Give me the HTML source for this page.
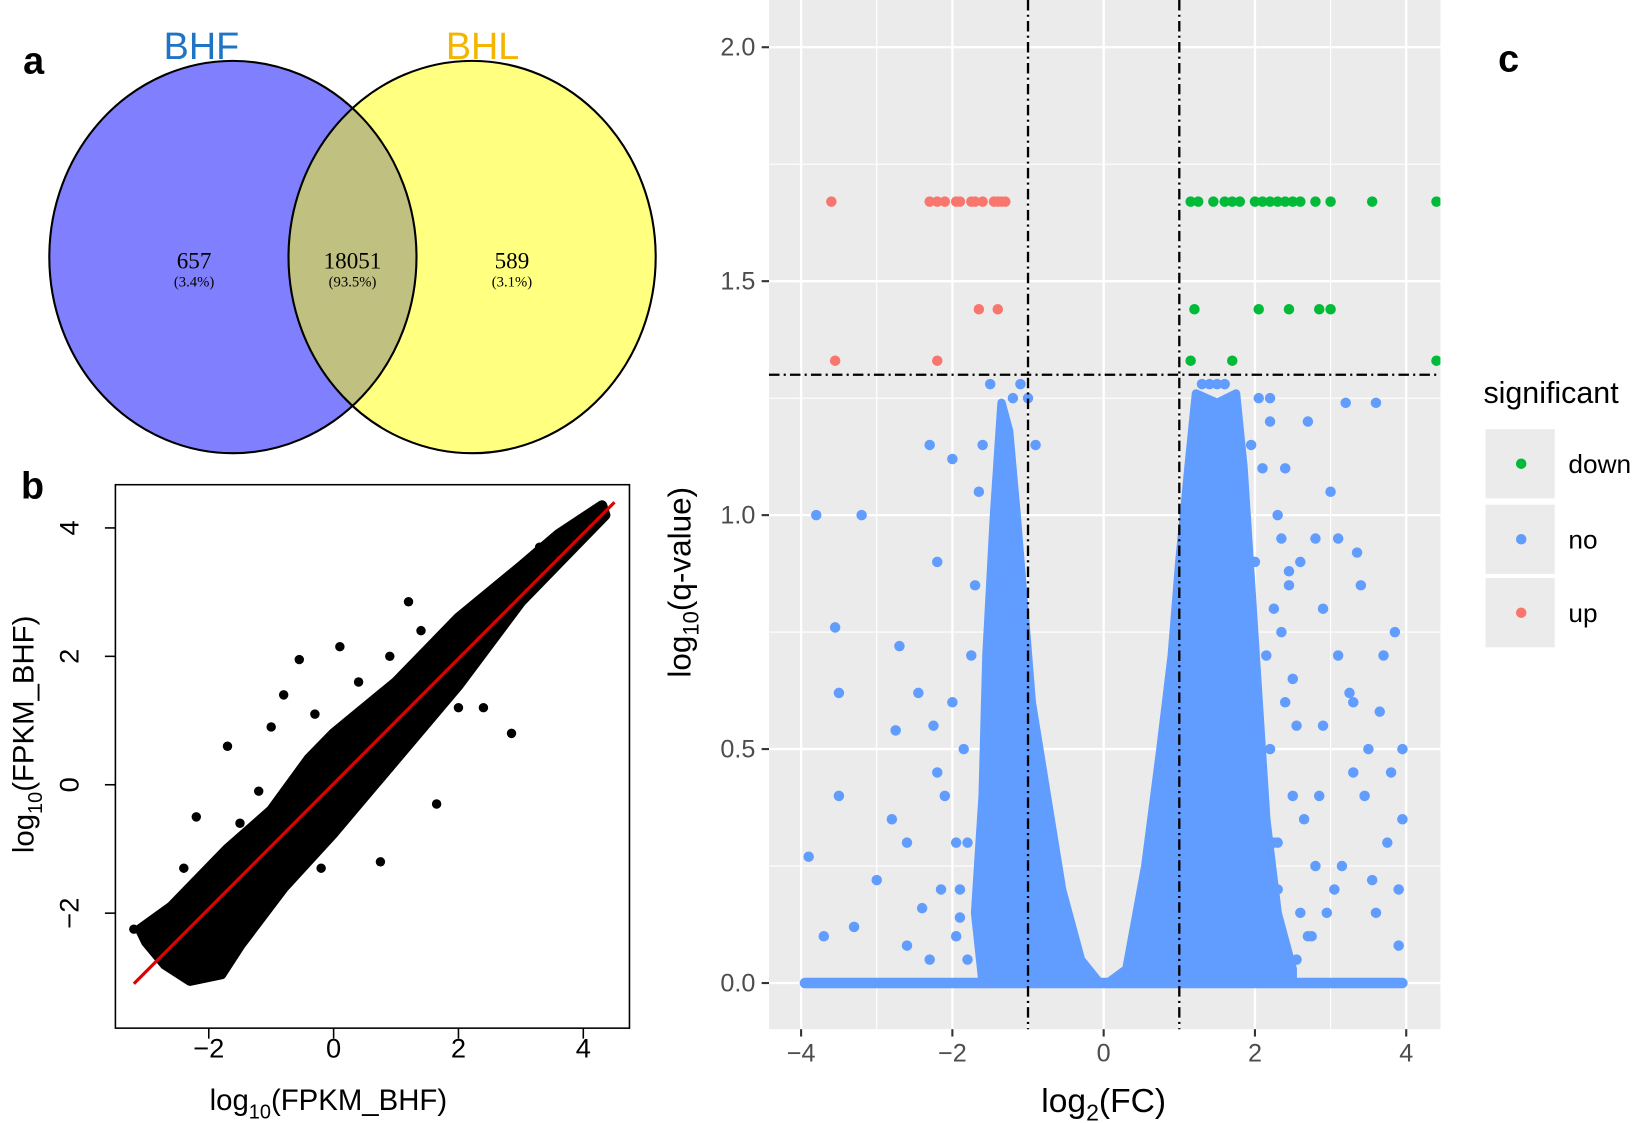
<!DOCTYPE html>
<html><head><meta charset="utf-8"><style>
html,body{margin:0;padding:0;background:#fff}
svg{display:block}
</style></head><body>
<svg id="fig" width="1645" height="1123" viewBox="0 0 1568 1070.4" xmlns="http://www.w3.org/2000/svg" font-family="Liberation Sans, sans-serif">
<defs><clipPath id="clipL"><ellipse cx="222" cy="245" rx="175" ry="187"/></clipPath>
<clipPath id="clipV"><rect x="733" y="0" width="640" height="981"/></clipPath>
<clipPath id="clipB"><rect x="110" y="462" width="490" height="518"/></clipPath></defs>

<!-- Panel a: Venn -->
<g>
<text x="22" y="70" font-size="36" font-weight="bold">a</text>
<ellipse cx="222" cy="245" rx="175" ry="187" fill="#8080ff"/>
<ellipse cx="450" cy="245" rx="175" ry="187" fill="#ffff80"/>
<ellipse cx="450" cy="245" rx="175" ry="187" fill="#c0c080" clip-path="url(#clipL)"/>
<ellipse cx="222" cy="245" rx="175" ry="187" fill="none" stroke="#000" stroke-width="2"/>
<ellipse cx="450" cy="245" rx="175" ry="187" fill="none" stroke="#000" stroke-width="2"/>
<text x="192" y="56" font-size="36" fill="#1f74c4" text-anchor="middle">BHF</text>
<text x="460" y="56" font-size="36" fill="#f4b400" text-anchor="middle">BHL</text>
<g font-family="Liberation Serif, serif" text-anchor="middle">
<text x="185" y="256" font-size="22">657</text>
<text x="185" y="273" font-size="14">(3.4%)</text>
<text x="336" y="256" font-size="22">18051</text>
<text x="336" y="273" font-size="14">(93.5%)</text>
<text x="488" y="256" font-size="22">589</text>
<text x="488" y="273" font-size="14">(3.1%)</text>
</g></g>

<!-- Panel b -->
<text x="20" y="475" font-size="36" font-weight="bold">b</text>
<g id="pb"></g>

<!-- Panel c -->
<text x="1428" y="68" font-size="36" font-weight="bold">c</text>
<g id="pc"></g>
</svg>
<script>
// ---- Panel b data ----
const bTicks = [-2, 0, 2, 4];
const bBand = [[-3.1,-2.25],[-2.6,-1.9],[-2.2,-1.5],[-1.7,-1.0],[-1,-0.4],[-0.4,0.4],[0,0.8],[1,1.6],[2,2.6],[3,3.4],[3.6,3.9],[4.3,4.35],[4.35,4.2],[3.8,3.65],[3,2.85],[2,1.55],[1,0.4],[0,-0.75],[-0.8,-1.6],[-1.5,-2.5],[-1.8,-2.95],[-2.3,-3.05],[-2.7,-2.8],[-3.0,-2.45]];
const bOutX = [-3.2,-2.9,-2.5,-1.9,-0.55,0.1,1.2,2.85,2.4,1.65,-1.7,-2.2,0.75,3.9,-0.8,-1.2,2.5,-0.3,-1.0,-0.6,0.4,1.4,2.0,3.3,-1.5,-2.4,0.9,-0.2];
const bOutY = [-2.25,-2.2,-2.8,-2.95,1.95,2.15,2.85,0.8,1.2,-0.3,0.6,-0.5,-1.2,4.0,1.4,-0.1,2.6,1.1,0.9,-1.0,1.6,2.4,1.2,3.7,-0.6,-1.3,2.0,-1.3];
const bLine = [[-3.2,-3.1],[4.5,4.4]];

// ---- Panel c data ----
const xTicks = [-4,-2,0,2,4];
const yTicks = [0.0,0.5,1.0,1.5,2.0];
const fcCut = [-1, 1];
const qCut = 1.3;
const upX = [-3.6,-2.3,-2.2,-2.1,-1.95,-1.9,-1.75,-1.7,-1.6,-1.45,-1.4,-1.35,-1.3,-1.65,-1.4,-3.55,-2.2];
const upY = [1.67,1.67,1.67,1.67,1.67,1.67,1.67,1.67,1.67,1.67,1.67,1.67,1.67,1.44,1.44,1.33,1.33];
const downX = [1.15,1.25,1.45,1.6,1.7,1.8,2.0,2.1,2.2,2.3,2.4,2.5,2.6,2.8,3.0,3.55,4.4,1.2,2.05,2.45,2.85,3.0,1.15,1.7,4.4];
const downY = [1.67,1.67,1.67,1.67,1.67,1.67,1.67,1.67,1.67,1.67,1.67,1.67,1.67,1.67,1.67,1.67,1.67,1.44,1.44,1.44,1.44,1.44,1.33,1.33,1.33];
const rightCloud = [[0.05,0],[0.3,0.03],[0.55,0.25],[0.75,0.5],[0.9,0.7],[1.0,0.9],[1.12,1.1],[1.22,1.26],[1.5,1.24],[1.75,1.26],[1.85,1.1],[1.95,0.85],[2.05,0.6],[2.15,0.35],[2.3,0.15],[2.5,0.03],[2.5,0]];
const leftCloud = [[-0.05,0],[-0.3,0.05],[-0.55,0.2],[-0.75,0.4],[-0.95,0.6],[-1.05,0.8],[-1.15,1.0],[-1.25,1.18],[-1.35,1.24],[-1.45,1.0],[-1.55,0.7],[-1.6,0.4],[-1.7,0.15],[-1.6,0]];
const noX = [-3.8,-3.2,-3.55,-3.5,-3.5,-3.9,-3.7,-3.3,-2.75,-2.7,-2.6,-2.4,-2.3,-2.25,-2.2,-2.15,-2.0,-1.95,-2.6,-2.3,-2.8,-3.0,-2.2,-1.9,-2.1,-2.45,-1.5,-1.6,-1.2,
 2.2,2.4,2.6,2.7,2.8,2.9,3.0,3.1,3.2,3.3,3.4,3.5,3.6,3.7,3.8,3.9,3.95,2.5,2.65,2.9,3.15,3.45,3.6,3.85,2.3,2.75,3.05,3.3,3.75,2.55,2.95,3.25,3.55,3.9,2.45,3.35,3.95,2.85,3.65,2.35,3.1,
 -1.8,-1.85,-1.9,-1.75,-1.7,-1.95,-2.0,-1.8,-1.65,-1.1,-1.2,-0.9,-1.0,-1.3,
 2.2,2.3,2.25,2.4,2.35,2.5,2.1,2.2,2.3,2.6,2.15,2.45,2.05,2.25,2.0,2.1,1.95,2.55,2.7,2.8,1.3,1.4,1.5,1.6];
const noY = [1.0,1.0,0.76,0.62,0.4,0.27,0.1,0.12,0.54,0.72,0.3,0.16,1.15,0.55,0.45,0.2,1.12,0.3,0.08,0.05,0.35,0.22,0.9,0.14,0.4,0.62,1.28,1.15,1.25,
 1.25,1.1,0.9,1.2,0.95,0.8,1.05,0.7,1.24,0.6,0.85,0.5,1.24,0.7,0.45,0.2,0.5,0.65,0.35,0.55,0.25,0.4,0.15,0.75,0.3,0.1,0.2,0.45,0.3,0.05,0.15,0.62,0.22,0.08,0.88,0.92,0.35,0.4,0.58,0.75,0.95,
 0.3,0.5,0.2,0.7,0.85,0.1,0.6,0.05,1.05,1.28,0.95,1.15,1.25,0.35,
 1.2,1.0,0.8,0.6,0.95,0.4,1.1,0.5,0.2,0.15,0.7,0.85,1.25,0.3,0.9,0.05,1.15,0.55,0.1,0.25,1.28,1.28,1.28,1.28];
const zeroRowX = [-3.95,3.95];

const NS='http://www.w3.org/2000/svg';
function mk(tag, parent, attrs){const e=document.createElementNS(NS,tag);for(const k in attrs)e.setAttribute(k,attrs[k]);parent.appendChild(e);return e;}

// ---- Panel b draw ----
(function(){
const g=document.getElementById('pb');
const bx=v=>318+v*59.5, by=v=>748-v*61.2;
const box=mk('rect',g,{x:110,y:462,width:490,height:518,fill:'#fff',stroke:'#000','stroke-width':1.5});


const cl=mk('g',g,{'clip-path':'url(#clipB)'});
const band=mk('polygon',cl,{points:bBand.map(p=>bx(p[0])+','+by(p[1])).join(' '),fill:'#000',stroke:'#000','stroke-width':10,'stroke-linejoin':'round'});


bOutX.forEach((x,i)=>{const c=mk('circle',cl,{cx:bx(x),cy:by(bOutY[i]),r:4.5,fill:'#000'});

});
const ln=mk('line',cl,{x1:bx(bLine[0][0]),y1:by(bLine[0][1]),x2:bx(bLine[1][0]),y2:by(bLine[1][1]),stroke:'#e00000','stroke-width':3});


bTicks.forEach(t=>{
 mk('line',g,{x1:bx(t),y1:980,x2:bx(t),y2:990,stroke:'#000','stroke-width':1.5});
 const tx=mk('text',g,{x:bx(t),y:1008,'font-size':26,'text-anchor':'middle'});tx.textContent=(t<0?'\u2212':'')+Math.abs(t);
 
 
 mk('line',g,{x1:100,y1:by(t),x2:110,y2:by(t),stroke:'#000','stroke-width':1.5});
 const ty=mk('text',g,{x:0,y:0,'font-size':26,'text-anchor':'middle',transform:`translate(75 ${by(t)}) rotate(-90)`});ty.textContent=(t<0?'\u2212':'')+Math.abs(t);
 
 
});
const xt=mk('text',g,{x:313,y:1058,'font-size':28,'text-anchor':'middle'});
xt.innerHTML='log<tspan font-size="19" dy="8">10</tspan><tspan dy="-8">(FPKM_BHF)</tspan>';


const yt=mk('text',g,{x:0,y:0,'font-size':28,'text-anchor':'middle',transform:'translate(32 700) rotate(-90)'});
yt.innerHTML='log<tspan font-size="19" dy="8">10</tspan><tspan dy="-8">(FPKM_BHF)</tspan>';


})();

// ---- Panel c draw ----
(function(){
const g=document.getElementById('pc');
const vx=v=>1052+v*72.1, vy=v=>937-v*446;
const bg=mk('rect',g,{x:733,y:0,width:640,height:981,fill:'#ebebeb'});


for(let t=-5;t<=5;t+=1){const x=vx(t); if(x>733&&x<1373) mk('line',g,{x1:x,y1:0,x2:x,y2:981,stroke:'#fff','stroke-width':t%2===0?2.2:1.1});}
for(let t=-0.25;t<=2.2;t+=0.25){const y=vy(t); if(y>0&&y<981) mk('line',g,{x1:733,y1:y,x2:1373,y2:y,stroke:'#fff','stroke-width':Math.abs(t*2-Math.round(t*2))<0.01?2.2:1.1});}
const cl=mk('g',g,{'clip-path':'url(#clipV)'});
const blue='#619cff';
[rightCloud,leftCloud].forEach((poly,i)=>{const p=mk('polygon',cl,{points:poly.map(q=>vx(q[0])+','+vy(q[1])).join(' '),fill:blue,stroke:blue,'stroke-width':8,'stroke-linejoin':'round'});

});
const zr=mk('line',cl,{x1:vx(zeroRowX[0]),y1:vy(0),x2:vx(zeroRowX[1]),y2:vy(0),stroke:blue,'stroke-width':10,'stroke-linecap':'round'});


noX.forEach((x,i)=>{const c=mk('circle',cl,{cx:vx(x),cy:vy(noY[i]),r:5,fill:blue});

});
upX.forEach((x,i)=>{const c=mk('circle',cl,{cx:vx(x),cy:vy(upY[i]),r:5,fill:'#f8766d'});

});
downX.forEach((x,i)=>{const c=mk('circle',cl,{cx:vx(x),cy:vy(downY[i]),r:5,fill:'#00ba38'});

});
fcCut.forEach(v=>{const l=mk('line',g,{x1:vx(v),y1:0,x2:vx(v),y2:981,stroke:'#000','stroke-width':2.2,'stroke-dasharray':'10 4 2 4'});

});
const hl=mk('line',g,{x1:733,y1:vy(qCut),x2:1373,y2:vy(qCut),stroke:'#000','stroke-width':2.2,'stroke-dasharray':'10 4 2 4'});


xTicks.forEach(t=>{
 mk('line',g,{x1:vx(t),y1:981,x2:vx(t),y2:988,stroke:'#333','stroke-width':2});
 const tx=mk('text',g,{x:vx(t),y:1012,'font-size':24,fill:'#4d4d4d','text-anchor':'middle'});tx.textContent=(t<0?'\u2212':'')+Math.abs(t);
 
 
});
yTicks.forEach(t=>{
 mk('line',g,{x1:726,y1:vy(t),x2:733,y2:vy(t),stroke:'#333','stroke-width':2});
 const ty=mk('text',g,{x:720,y:vy(t)+8,'font-size':24,fill:'#4d4d4d','text-anchor':'end'});ty.textContent=t.toFixed(1);
 
 
});
const xt=mk('text',g,{x:1052,y:1060,'font-size':32,'text-anchor':'middle'});
xt.innerHTML='log<tspan font-size="22" dy="8">2</tspan><tspan dy="-8">(FC)</tspan>';


const yt=mk('text',g,{x:0,y:0,'font-size':30,'text-anchor':'middle',transform:'translate(658 555) rotate(-90)'});
yt.innerHTML='log<tspan font-size="21" dy="8">10</tspan><tspan dy="-8">(q-value)</tspan>';


const lg=mk('g',g,{});


const lt=mk('text',lg,{x:1414,y:384,'font-size':29});lt.textContent='significant';


[['down','#00ba38',408],['no',blue,480],['up','#f8766d',550]].forEach(([lab,col,y])=>{
 const e=mk('g',lg,{});
 
 
 mk('rect',e,{x:1415,y:y,width:68,height:68,fill:'#ebebeb',stroke:'#fff','stroke-width':2});
 mk('circle',e,{cx:1450,cy:y+34,r:5,fill:col});
 const t=mk('text',e,{x:1495,y:y+43,'font-size':25});t.textContent=lab;
});
})();
</script>
</body></html>
